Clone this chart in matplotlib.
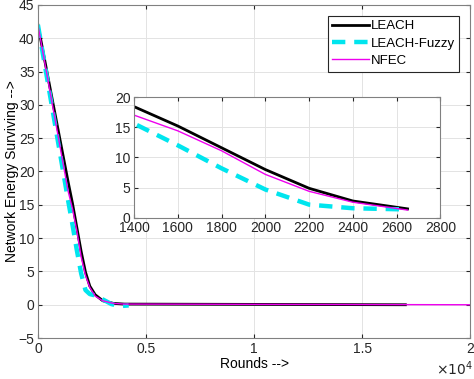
import numpy as np
import matplotlib
matplotlib.use("Agg")
from matplotlib import pyplot as plt
from matplotlib.ticker import FuncFormatter

plt.rcParams["font.family"] = ["Liberation Sans", "DejaVu Sans"]
plt.rcParams["font.size"] = 10

# rounds / remaining energy
leach_x = [0, 1400, 1600, 1800, 2000, 2200, 2400, 2650, 3000, 3500, 4000, 17000]
leach_y = [42, 18.4, 15.2, 11.6, 8.0, 4.9, 2.8, 1.5, 0.6, 0.2, 0.1, 0.0]

fuzzy_x = [0, 1400, 1600, 1800, 2000, 2200, 2400, 2650, 3000, 3400, 3800, 4200]
fuzzy_y = [42, 15.6, 12.0, 8.2, 4.7, 2.2, 1.6, 1.4, 0.8, 0.1, -0.2, -0.1]

nfec_x = [0, 1400, 1600, 1800, 2000, 2200, 2400, 2650, 3000, 3500, 4000, 20000]
nfec_y = [42, 17.0, 14.4, 11.1, 7.2, 4.4, 2.6, 1.3, 0.6, 0.2, 0.1, 0.0]

main_xticks = [0, 5000, 10000, 15000, 20000]
main_yticks = [-5, 0, 5, 10, 15, 20, 25, 30, 35, 40, 45]
inset_xticks = [1400, 1600, 1800, 2000, 2200, 2400, 2600, 2800]
inset_yticks = [0, 5, 10, 15, 20]


def style(ax):
    ax.grid(True, color="#e3e3e3", linewidth=0.7)
    ax.set_axisbelow(True)
    ax.tick_params(direction="in", length=3, colors="#262626", top=True, right=True,
                   pad=2.5)
    for s in ax.spines.values():
        s.set_color("#808080")
        s.set_linewidth(0.8)


def draw(ax, xmax=None):
    def cut(x, y):
        if xmax is None:
            return x, y
        k = [i for i, v in enumerate(x) if v <= xmax]
        return [x[i] for i in k], [y[i] for i in k]
    ax.plot(*cut(leach_x, leach_y), color="black", lw=2.0, label="LEACH")
    ax.plot(*cut(fuzzy_x, fuzzy_y), color="#00e5ee", lw=3.2, ls=(0, (3, 2)),
            label="LEACH-Fuzzy")
    ax.plot(*cut(nfec_x, nfec_y), color="#ee00ee", lw=1.0, label="NFEC")


fig = plt.figure(figsize=(4.74, 3.79), dpi=100)
ax = fig.add_axes([0.080, 0.108, 0.912, 0.879])
draw(ax)
ax.set_xlim(0, 20000)
ax.set_ylim(-5, 45)
ax.set_xticks(main_xticks)
ax.set_yticks(main_yticks)
ax.xaxis.set_major_formatter(FuncFormatter(lambda v, p: f"{v / 1e4:g}"))
ax.set_xlabel("Rounds -->", labelpad=1)
ax.set_ylabel("Network Energy Surviving -->", labelpad=0)
style(ax)
fig.text(0.998, 0.003, r"$\times10^4$", ha="right", va="bottom",
         fontsize=10, color="#262626")
leg = ax.legend(loc="upper right", bbox_to_anchor=(0.975, 0.968), fancybox=False,
                edgecolor="#262626", framealpha=1, handlelength=2.8,
                borderpad=0.35, labelspacing=0.38, handletextpad=0.1, fontsize=9.5,
                borderaxespad=0.0)
leg.get_frame().set_linewidth(0.8)

axi = fig.add_axes([0.283, 0.425, 0.646, 0.319])
draw(axi, xmax=2650)
axi.set_xlim(1400, 2800)
axi.set_ylim(0, 20)
axi.set_xticks(inset_xticks)
axi.set_yticks(inset_yticks)
style(axi)

fig.savefig("out.png", dpi=100)
